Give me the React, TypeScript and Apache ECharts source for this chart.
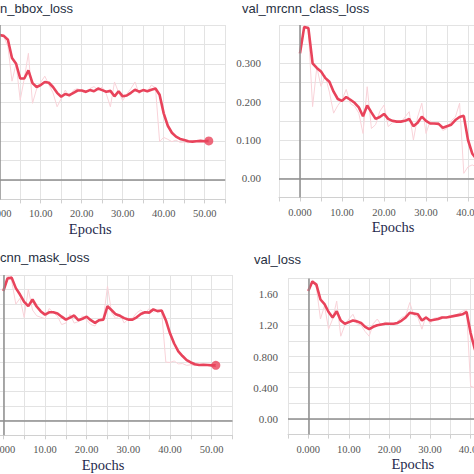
import React, { useEffect, useRef } from 'react';
import * as echarts from 'echarts';

// epochs (x values)
const epochsFull = [
  0, 1, 2, 3, 4, 5, 6, 7, 8, 9, 10, 11, 12, 13, 14, 15, 16, 17, 18, 19, 20, 21, 22, 23, 24, 25,
  26, 27, 28, 29, 30, 31, 32, 33, 34, 35, 36, 37, 38, 39, 40, 41, 42, 43, 44, 45, 46, 47, 48, 49, 50, 51
];
const epochsCut = [
  0, 1, 2, 3, 4, 5, 6, 7, 8, 9, 10, 11, 12, 13, 14, 15, 16, 17, 18, 19, 20, 21, 22, 23, 24, 25,
  26, 27, 28, 29, 30, 31, 32, 33, 34, 35, 36, 37, 38, 39, 40, 41, 42
];

// mrcnn_bbox_loss
const bboxSmooth = [
  0.374, 0.372, 0.362, 0.315, 0.300, 0.262, 0.262, 0.283, 0.250, 0.240, 0.245, 0.253, 0.251,
  0.240, 0.225, 0.215, 0.222, 0.219, 0.225, 0.231, 0.231, 0.228, 0.232, 0.229, 0.236, 0.232,
  0.228, 0.230, 0.216, 0.229, 0.216, 0.218, 0.225, 0.233, 0.228, 0.232, 0.229, 0.233, 0.236,
  0.220, 0.172, 0.140, 0.122, 0.112, 0.106, 0.103, 0.100, 0.099, 0.100, 0.101, 0.100, 0.101
];
const bboxRaw = [
  0.374, 0.370, 0.345, 0.255, 0.300, 0.206, 0.262, 0.327, 0.198, 0.235, 0.252, 0.268, 0.246,
  0.225, 0.189, 0.210, 0.232, 0.214, 0.232, 0.236, 0.229, 0.224, 0.236, 0.241, 0.232, 0.240,
  0.222, 0.189, 0.253, 0.226, 0.205, 0.222, 0.236, 0.253, 0.222, 0.236, 0.228, 0.245, 0.238,
  0.099, 0.110, 0.105, 0.099, 0.103, 0.097, 0.098, 0.096, 0.099, 0.101, 0.100, 0.102, 0.100
];

// val_mrcnn_class_loss
const classSmooth = [
  0.326, 0.395, 0.392, 0.300, 0.288, 0.279, 0.262, 0.252, 0.226, 0.207, 0.202, 0.212, 0.205,
  0.197, 0.185, 0.162, 0.190, 0.172, 0.155, 0.160, 0.168, 0.155, 0.150, 0.148, 0.148, 0.150,
  0.155, 0.136, 0.145, 0.161, 0.150, 0.143, 0.143, 0.142, 0.132, 0.136, 0.140, 0.152, 0.160,
  0.163, 0.100, 0.065, 0.050
];
const classRaw = [
  0.326, 0.400, 0.385, 0.187, 0.290, 0.240, 0.268, 0.225, 0.170, 0.190, 0.205, 0.232, 0.195,
  0.188, 0.170, 0.117, 0.239, 0.130, 0.140, 0.175, 0.191, 0.135, 0.145, 0.150, 0.145, 0.160,
  0.174, 0.100, 0.160, 0.196, 0.117, 0.150, 0.140, 0.145, 0.125, 0.130, 0.150, 0.160, 0.196,
  0.013, 0.030, 0.035, 0.030
];

// mrcnn_mask_loss
const maskSmooth = [
  0.445, 0.488, 0.491, 0.455, 0.433, 0.408, 0.393, 0.416, 0.392, 0.375, 0.364, 0.372, 0.372,
  0.368, 0.357, 0.347, 0.354, 0.361, 0.345, 0.350, 0.357, 0.345, 0.336, 0.345, 0.347, 0.393,
  0.379, 0.365, 0.360, 0.352, 0.347, 0.347, 0.355, 0.366, 0.372, 0.371, 0.382, 0.376, 0.378,
  0.345, 0.300, 0.265, 0.238, 0.222, 0.208, 0.200, 0.194, 0.191, 0.192, 0.191, 0.190, 0.190
];
const maskRaw = [
  0.445, 0.500, 0.480, 0.400, 0.420, 0.354, 0.451, 0.380, 0.360, 0.355, 0.350, 0.385, 0.372,
  0.358, 0.330, 0.335, 0.365, 0.335, 0.340, 0.360, 0.345, 0.330, 0.325, 0.350, 0.348, 0.462,
  0.370, 0.350, 0.365, 0.335, 0.350, 0.352, 0.370, 0.380, 0.368, 0.385, 0.372, 0.380, 0.375,
  0.201, 0.200, 0.205, 0.195, 0.196, 0.190, 0.192, 0.189, 0.190, 0.193, 0.190, 0.189, 0.190
];

// val_loss
const valSmooth = [
  1.64, 1.76, 1.72, 1.53, 1.47, 1.37, 1.30, 1.38, 1.26, 1.22, 1.24, 1.26, 1.25, 1.23, 1.18,
  1.15, 1.18, 1.20, 1.21, 1.22, 1.22, 1.22, 1.23, 1.26, 1.30, 1.36, 1.35, 1.34, 1.26, 1.30,
  1.26, 1.27, 1.28, 1.30, 1.30, 1.31, 1.32, 1.33, 1.34, 1.37, 1.10, 0.90, 0.75
];
const valRaw = [
  1.64, 1.78, 1.68, 1.28, 1.45, 1.15, 1.28, 1.51, 1.06, 1.20, 1.28, 1.34, 1.22, 1.20, 1.12,
  1.06, 1.22, 1.28, 1.20, 1.24, 1.22, 1.20, 1.25, 1.30, 1.32, 1.49, 1.33, 1.30, 1.15, 1.32,
  1.22, 1.29, 1.30, 1.31, 1.30, 1.33, 1.32, 1.35, 1.38, 1.40, 0.42, 0.40, 0.40
];

// tick labels
const xTickValues = [0, 10, 20, 30, 40, 50];
const xTickLabels = ['0.000', '10.00', '20.00', '30.00', '40.00', '50.00'];
const classTickValues = [0, 0.1, 0.2, 0.3];
const classTickLabels = ['0.00', '0.100', '0.200', '0.300'];
const valTickValues = [0, 0.4, 0.8, 1.2, 1.6];
const valTickLabels = ['0.00', '0.400', '0.800', '1.20', '1.60'];

const SMOOTH_COLOR = '#e8435b';
const RAW_COLOR = '#f9d3d9';

const pickLabel = (values: number[], labels: string[]) => (v: number) => {
  const i = values.findIndex(t => Math.abs(t - v) < 1e-6);
  return i >= 0 ? labels[i] : '';
};

const panels = [
  {
    title: 'n_bbox_loss', titleLeft: 0, titleTop: 2,
    epochs: epochsFull, smooth: bboxSmooth, raw: bboxRaw,
    yMin: -0.05, yMax: 0.4, yStep: 0.05, yTicks: null as null | [number[], string[]], yMargin: 0,
    grid: { left: -20.8, top: 25, width: 246, height: 174.4 },
    nameShift: -12, dot: true
  },
  {
    title: 'val_mrcnn_class_loss', titleLeft: 242, titleTop: 2,
    epochs: epochsCut, smooth: classSmooth, raw: classRaw,
    yMin: -0.05, yMax: 0.4, yStep: 0.05, yTicks: [classTickValues, classTickLabels] as [number[], string[]], yMargin: 18,
    grid: { left: 279, top: 25, width: 252, height: 172.5 },
    nameShift: -12, dot: false
  },
  {
    title: 'cnn_mask_loss', titleLeft: 0, titleTop: 251,
    epochs: epochsFull, smooth: maskSmooth, raw: maskRaw,
    yMin: -0.05, yMax: 0.5, yStep: 0.05, yTicks: null as null | [number[], string[]], yMargin: 0,
    grid: { left: -17.5, top: 275, width: 250, height: 160.3 },
    nameShift: -4.5, dot: true
  },
  {
    title: 'val_loss', titleLeft: 254, titleTop: 253,
    epochs: epochsCut, smooth: valSmooth, raw: valRaw,
    yMin: -0.2, yMax: 1.8, yStep: 0.2, yTicks: [valTickValues, valTickLabels] as [number[], string[]], yMargin: 10,
    grid: { left: 288, top: 278.4, width: 243.5, height: 156.2 },
    nameShift: 3, dot: false
  }
];

export default function App() {
  const chartRef = useRef<HTMLDivElement>(null);

  useEffect(() => {
    if (!chartRef.current) return;
    const chart = echarts.init(chartRef.current, undefined, { renderer: 'svg' });

    const series: any[] = [];
    panels.forEach((p, i) => {
      series.push({
        type: 'line',
        xAxisIndex: i,
        yAxisIndex: i,
        symbol: 'none',
        silent: true,
        lineStyle: { color: RAW_COLOR, width: 1 },
        data: p.epochs.map((e, k) => [e, p.raw[k]]),
        markLine: {
          silent: true,
          symbol: ['none', 'none'],
          label: { show: false },
          lineStyle: { color: '#8e8e8e', type: 'solid', width: 1.5 },
          data: [{ yAxis: 0 }, { xAxis: 0 }]
        }
      });
      series.push({
        type: 'line',
        xAxisIndex: i,
        yAxisIndex: i,
        symbol: 'none',
        silent: true,
        lineStyle: { color: SMOOTH_COLOR, width: 2.6 },
        data: p.epochs.map((e, k) => [e, p.smooth[k]])
      });
      if (p.dot) {
        const n = p.epochs.length - 1;
        series.push({
          type: 'scatter',
          xAxisIndex: i,
          yAxisIndex: i,
          symbolSize: 9,
          silent: true,
          itemStyle: { color: SMOOTH_COLOR },
          data: [[p.epochs[n], p.smooth[n]]]
        });
      }
    });

    const option: any = {
      animation: false,
      backgroundColor: '#ffffff',
      title: panels.map(p => ({
        text: p.title,
        left: p.titleLeft,
        top: p.titleTop,
        padding: 0,
        textStyle: {
          fontFamily: 'Liberation Sans',
          fontSize: 13,
          fontWeight: 'normal',
          color: '#27303f'
        }
      })),
      grid: panels.map(p => ({ ...p.grid, containLabel: false, outerBoundsMode: 'none' })),
      xAxis: panels.map((p, i) => ({
        type: 'value',
        gridIndex: i,
        min: -5,
        max: 55,
        interval: 5,
        axisLine: { show: true, onZero: false, lineStyle: { color: '#d0d0d0' } },
        axisTick: { show: true, length: 4, lineStyle: { color: '#cfcfcf' } },
        splitLine: { show: true, lineStyle: { color: '#e3e3e3', width: 1 } },
        axisLabel: {
          formatter: pickLabel(xTickValues, xTickLabels),
          color: '#555555',
          fontFamily: 'Liberation Serif',
          fontSize: 10.5,
          margin: 9
        },
        name: 'Epochs',
        nameLocation: 'middle',
        nameGap: 22,
        nameTextStyle: {
          fontFamily: 'Liberation Serif',
          fontSize: 14.5,
          color: '#1f2a4d',
          padding: p.nameShift < 0 ? [0, -2 * p.nameShift, 0, 0] : [0, 0, 0, 2 * p.nameShift]
        }
      })),
      yAxis: panels.map((p, i) => ({
        type: 'value',
        gridIndex: i,
        min: p.yMin,
        max: p.yMax,
        interval: p.yStep,
        axisLine: { show: false },
        axisTick: { show: false },
        splitLine: { show: true, lineStyle: { color: '#e3e3e3', width: 1 } },
        axisLabel: p.yTicks
          ? {
              show: true,
              formatter: pickLabel(p.yTicks[0], p.yTicks[1]),
              color: '#555555',
              fontFamily: 'Liberation Serif',
              fontSize: 11,
              margin: p.yMargin
            }
          : { show: false }
      })),
      series
    };

    chart.setOption(option);
    return () => chart.dispose();
  }, []);

  return (
    <div
      ref={chartRef}
      style={{ position: 'fixed', left: 0, top: 0, width: 474, height: 474, background: '#fff' }}
    />
  );
}
